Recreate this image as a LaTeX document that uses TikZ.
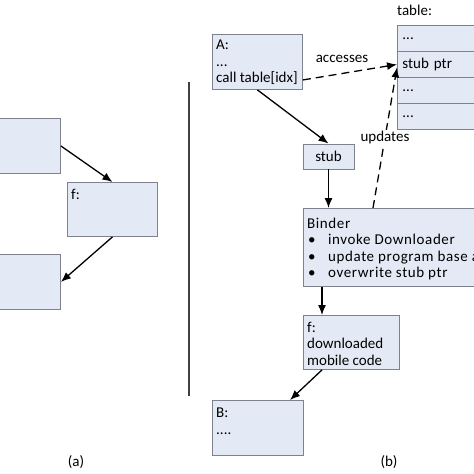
\documentclass[tikz,border=0pt]{standalone}
\usepackage{fontspec}
\setmainfont{Carlito}
\usetikzlibrary{arrows.meta}
\definecolor{cajafondo}{RGB}{228,234,245}
\definecolor{cajaborde}{RGB}{125,130,140}
\tikzset{
  caja/.style={draw=cajaborde, fill=cajafondo, line width=0.9pt, inner sep=0pt, anchor=north west},
  texto/.style={anchor=north west, align=left, inner xsep=4pt, inner ysep=7pt, font=\fontsize{15}{16.5}\selectfont},
  celda/.style={caja, minimum height=26pt, text width=80pt, inner xsep=5pt, align=left, font=\fontsize{15}{16.5}\selectfont},
  etiqueta/.style={font=\fontsize{15}{16.5}\selectfont, inner sep=1pt},
  flecha/.style={-{Latex[length=10pt,width=8pt]}, line width=1.3pt},
  rayada/.style={flecha, dash pattern=on 8pt off 5pt},
}
\newcommand{\vineta}{\hspace*{1pt}\makebox[20pt][l]{\textbullet}}
\begin{document}
\begin{tikzpicture}[x=1pt, y=-1pt]
  \useasboundingbox (0,0) rectangle (474,474);

  % (a)
  \node[caja, minimum width=70pt, minimum height=55pt] (izq1) at (-10,118) {};
  \node[caja, minimum width=90pt, minimum height=54pt] (fizq) at (67,182) {};
  \node[texto] (fizqtxt) at (fizq.north west) {f:};
  \node[caja, minimum width=70pt, minimum height=55pt] (izq2) at (-10,254) {};
  \draw[flecha] (izq1.east) -- (fizq.north);
  \draw[flecha] (fizq.south) -- (izq2.east);
  \node[etiqueta] (capa) at (76,462) {(a)};

  % Separador
  \draw[line width=1.3pt, draw=black!75] (189,82) -- (189,396);

  % (b)
  \node[caja, minimum width=90pt, minimum height=55pt] (A) at (212,34) {};
  \node[texto, inner ysep=6pt] (Atxt) at (A.north west) {A:\\...\\call table[idx]};

  \node[etiqueta, anchor=north west] (tabla) at (396,4) {table:};
  \node[celda] (t1) at (397,25) {...};
  \node[celda] (stubptr) at (397,51) {stub ptr};
  \node[celda] (t3) at (397,77) {...};
  \node[celda] (t4) at (397,103) {...};

  \node[caja, minimum width=51pt, minimum height=25pt, anchor=center, font=\fontsize{15}{16.5}\selectfont] (stub) at (328.5,156.5) {stub};

  \node[caja, minimum width=200pt, minimum height=78pt] (binder) at (303,208) {};
  \node[texto, inner ysep=10pt, font=\fontsize{15}{16.3}\selectfont\addfontfeature{LetterSpace=4}] (bindertxt) at (binder.north west) {Binder\\
    \vineta invoke Downloader\\
    \vineta update program base addr\\
    \vineta overwrite stub ptr};

  \node[caja, minimum width=96pt, minimum height=54pt] (fder) at (303,315) {};
  \node[texto] (fdertxt) at (fder.north west) {f:\\downloaded\\mobile code};

  \node[caja, minimum width=91pt, minimum height=55pt] (B) at (212,400) {};
  \node[texto, inner ysep=8pt] (Btxt) at (B.north west) {B:\\....};

  % Flechas
  \draw[flecha] (A.south) -- (stub.north);
  \draw[flecha] (stub.south) -- (stub.south |- binder.north);
  \draw[flecha] ([xshift=19pt]binder.south west) -- ([xshift=19pt]fder.north west);
  \draw[flecha] ([xshift=19pt]fder.south west) -- ([xshift=78pt]B.north west);
  \draw[rayada] ([yshift=-18pt]A.east) -- (stubptr.west);
  \draw[rayada] ([xshift=70pt]binder.north west) -- ([yshift=-3pt]stubptr.west);

  % Etiquetas
  \node[etiqueta] (acc) at (342,59) {accesses};
  \node[etiqueta, fill=white] (upd) at (385,137) {updates};
  \node[etiqueta] (capb) at (389,462) {(b)};
\end{tikzpicture}
\end{document}
